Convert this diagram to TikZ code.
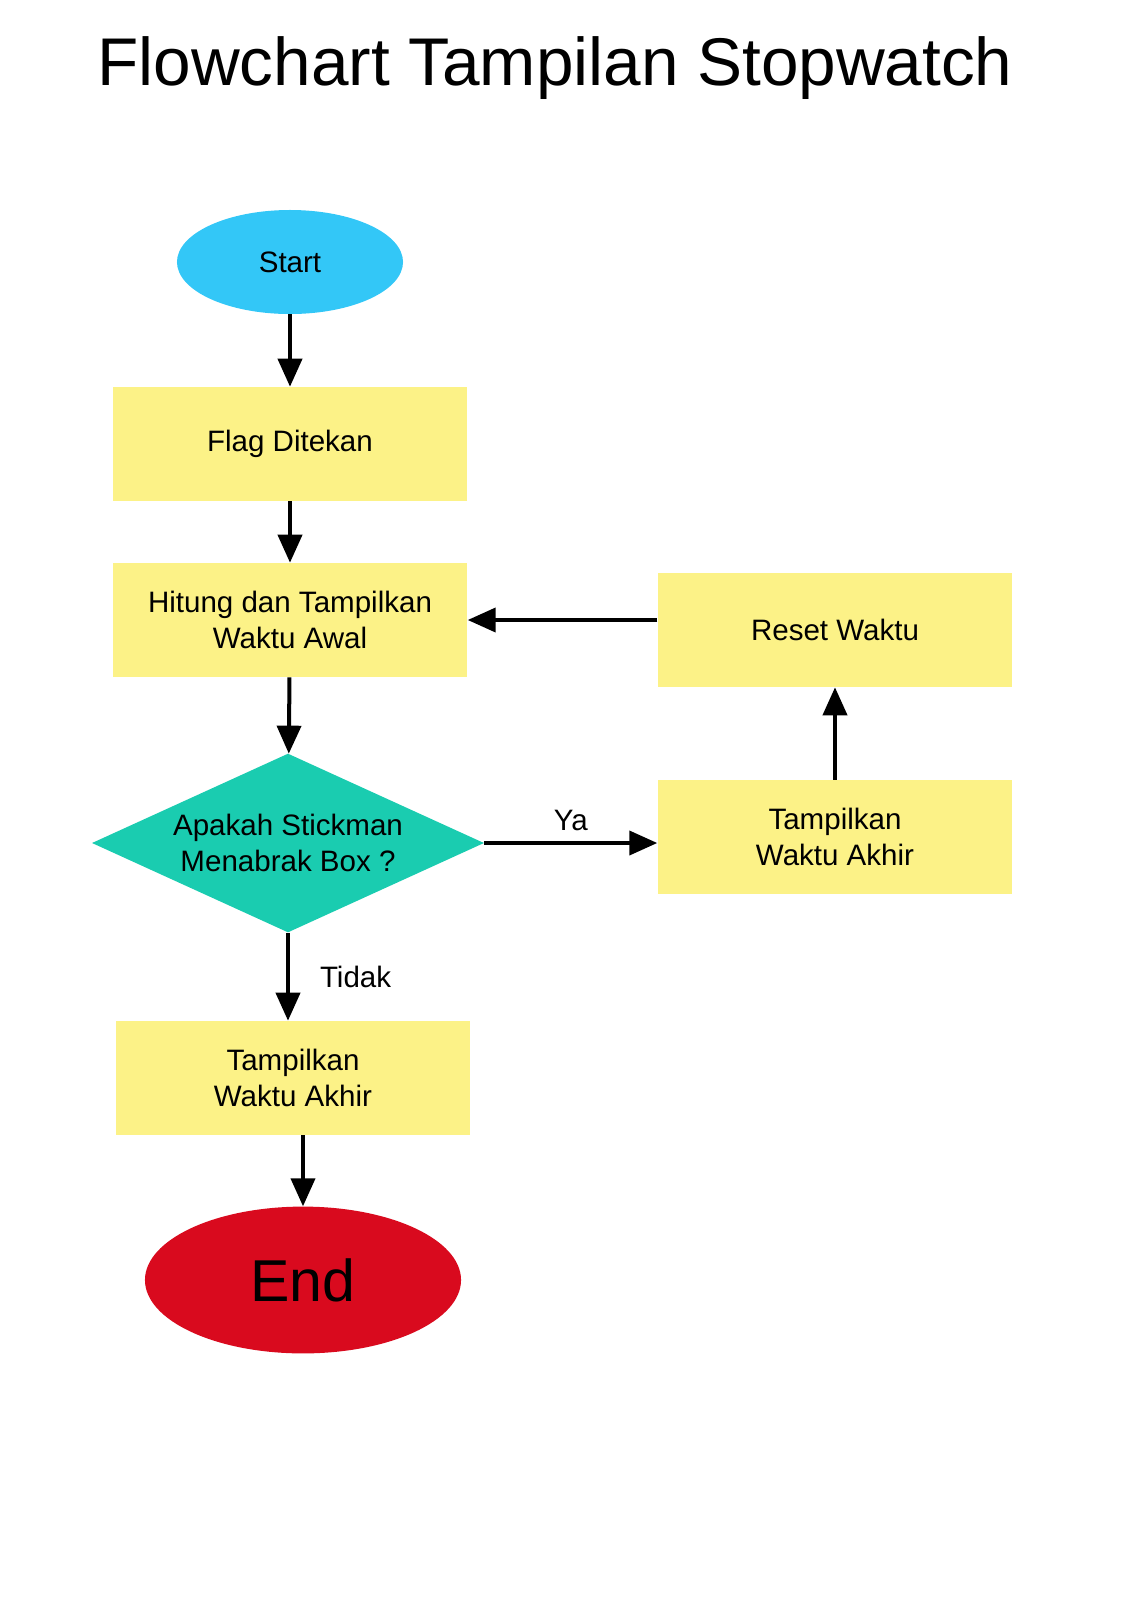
\documentclass[tikz,border=0pt]{standalone}
\usepackage{fontspec}
\setmainfont{Liberation Sans}
\usetikzlibrary{shapes.geometric, arrows.meta}
\definecolor{startblue}{HTML}{33C7F7}
\definecolor{boxyellow}{HTML}{FCF287}
\definecolor{decgreen}{HTML}{1ACCB0}
\definecolor{endred}{HTML}{D90A1E}
\begin{document}
\begin{tikzpicture}[
        x=0.025cm, y=-0.025cm,
        every node/.style={font=\fontsize{21}{25}\selectfont},
        box/.style={draw=none, fill=boxyellow, rectangle, minimum height=2.85cm, minimum width=8.87cm, align=center},
        term/.style={ellipse, inner sep=0pt},
        decision/.style={diamond, fill=decgreen, inner sep=0pt, aspect=2.19, minimum width=9.8cm, minimum height=4.47cm, align=center},
        arrow/.style={-{Triangle[length=0.7cm,width=0.6cm]}, line width=0.1cm}
    ]
    \useasboundingbox (0,0) rectangle (1132,1600);

    \node[font=\fontsize{48}{56}\selectfont] (title) at (555,68) {Flowchart Tampilan Stopwatch};

    \node[term, fill=startblue, minimum width=5.65cm, minimum height=2.6cm] (start) at (290,262) {Start};
    \node[box] (flag) at (290,444) {Flag Ditekan};
    \node[box] (hitung) at (290,620) {Hitung dan Tampilkan\\Waktu Awal};
    \node[decision] (apakah) at (288,843) {Apakah Stickman\\Menabrak Box ?};
    \node[box] (akhirkanan) at (835,837) {Tampilkan\\Waktu Akhir};
    \node[box] (reset) at (835,630) {Reset Waktu};
    \node[box] (akhir) at (293,1078) {Tampilkan\\Waktu Akhir};
    \node[term, fill=endred, minimum width=7.9cm, minimum height=3.67cm, font=\fontsize{42}{48}\selectfont] (end) at (303,1280) {End};

    \draw[arrow] (start) -- (flag);
    \draw[arrow] (flag) -- (hitung);
    \draw[arrow] (hitung) -- (apakah);
    \draw[arrow] (apakah.east) -- node[above=4pt] {Ya} (apakah.east-|akhirkanan.west);
    \draw[arrow] (akhirkanan) -- (reset);
    \draw[arrow] (reset.west|-hitung.east) -- (hitung.east);
    \draw[arrow] (apakah.south) -- node[right=18pt] {Tidak} (apakah.south|-akhir.north);
    \draw[arrow] (akhir.south-|end.north) -- (end.north);

\end{tikzpicture}
\end{document}
